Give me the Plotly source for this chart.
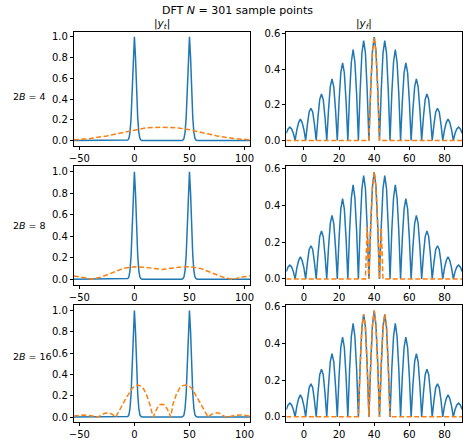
import plotly.graph_objects as go

BLUE = '#1f77b4'
ORANGE = '#ff7f0e'

half_widths = [2, 4, 8]
row_labels = ['2<i>B</i> = 4', '2<i>B</i> = 8', '2<i>B</i> = 16']

# time domain |y_t|
t_x = [-55, -7, -6, -5, -4, -3, -2, -1, 0, 1, 2, 3, 4, 5, 6, 7,
       43, 44, 45, 46, 47, 48, 49, 50, 51, 52, 53, 54, 55, 56, 57, 105]
t_y = [0, 0, 0.005, 0.02, 0.08, 0.22, 0.48, 0.8, 1, 0.8, 0.48, 0.22, 0.08, 0.02, 0.005, 0,
       0, 0.005, 0.02, 0.08, 0.22, 0.48, 0.8, 1, 0.8, 0.48, 0.22, 0.08, 0.02, 0.005, 0, 0]

# filtered time signals
filt1_x = [-55, -40, -25, -10, 0, 10, 25, 40, 50, 60, 75, 90, 105]
filt1_y = [0.008, 0.02, 0.045, 0.08, 0.105, 0.122, 0.13, 0.122, 0.105, 0.08, 0.045, 0.02, 0.008]
filt2_x = [-55, -48, -42, -38, -30, -20, -10, 0, 10, 25, 40, 50, 60, 70, 80, 88, 92, 98, 105]
filt2_y = [0.03, 0.02, 0.005, 0.0, 0.02, 0.06, 0.1, 0.115, 0.11, 0.09, 0.11, 0.115, 0.1, 0.06, 0.02, 0.0, 0.005, 0.02, 0.03]
filt3_x = [-55, -50, -46, -42, -37, -33, -30, -27, -23, -20, -17, -14, -11, -8, -5, -2, 1, 3, 5, 8, 11, 14, 17,
           19, 21, 23, 25, 27, 29, 31, 33, 35, 38, 41, 44, 47, 49, 52, 55, 58, 61, 64, 67,
           70, 73, 77, 80, 83, 87, 91, 96, 100, 105]
filt3_y = [0.01, 0.015, 0.02, 0.015, 0.005, 0.0, 0.02, 0.035, 0.04, 0.025, 0.0, 0.05, 0.11, 0.17, 0.22, 0.27, 0.295, 0.3, 0.295, 0.27, 0.21, 0.12, 0.0,
           0.05, 0.09, 0.115, 0.12, 0.115, 0.09, 0.05, 0.0, 0.12, 0.21, 0.27, 0.295, 0.3, 0.295, 0.27, 0.22, 0.17, 0.11, 0.05, 0.0,
           0.025, 0.04, 0.035, 0.02, 0.0, 0.005, 0.015, 0.02, 0.015, 0.01]
filt_x = [filt1_x, filt2_x, filt3_x]
filt_y = [filt1_y, filt2_y, filt3_y]

# frequency domain |y_f|
f_x = list(range(-10, 91))
f_y = [0.04, 0.065, 0.075, 0.065, 0.04, 0,
       0.06, 0.10, 0.12, 0.10, 0.06, 0,
       0.09, 0.16, 0.18, 0.16, 0.09, 0,
       0.13, 0.23, 0.26, 0.23, 0.13, 0,
       0.17, 0.30, 0.345, 0.30, 0.17, 0,
       0.22, 0.38, 0.435, 0.38, 0.22, 0,
       0.26, 0.44, 0.51, 0.44, 0.26, 0,
       0.28, 0.49, 0.56, 0.49, 0.28, 0,
       0.29, 0.50, 0.58, 0.50, 0.29, 0,
       0.28, 0.49, 0.56, 0.49, 0.28, 0,
       0.26, 0.44, 0.51, 0.44, 0.26, 0,
       0.22, 0.38, 0.435, 0.38, 0.22, 0,
       0.17, 0.30, 0.345, 0.30, 0.17, 0,
       0.13, 0.23, 0.26, 0.23, 0.13, 0,
       0.09, 0.16, 0.18, 0.16, 0.09, 0,
       0.06, 0.10, 0.12, 0.10, 0.06, 0,
       0.04, 0.065, 0.075, 0.065, 0.04]
center = 40

fig = go.Figure()
line_w = 1.5
dash = '5px,2.5px'
ax_style = dict(showgrid=False, zeroline=False, showline=True, mirror=True, linecolor='black',
                linewidth=1, ticks='outside', ticklen=3, tickcolor='black',
                tickfont=dict(size=10, color='black'))
ydoms = [[0.677, 0.937], [0.361, 0.630], [0.047, 0.314]]
layout_axes = {}
for r in range(3):
    B = half_widths[r]
    nl, nr = 2 * r + 1, 2 * r + 2
    xl, yl, xr, yr = f'x{nl}', f'y{nl}', f'x{nr}', f'y{nr}'
    fig.add_trace(go.Scatter(x=t_x, y=t_y, mode='lines', line=dict(color=BLUE, width=line_w), xaxis=xl, yaxis=yl))
    fig.add_trace(go.Scatter(x=filt_x[r], y=filt_y[r], mode='lines',
                             line=dict(color=ORANGE, width=line_w, dash=dash), xaxis=xl, yaxis=yl))
    fig.add_trace(go.Scatter(x=f_x, y=f_y, mode='lines', line=dict(color=BLUE, width=line_w), xaxis=xr, yaxis=yr))
    masked = [y if abs(x - center) <= B else 0 for x, y in zip(f_x, f_y)]
    fig.add_trace(go.Scatter(x=f_x, y=masked, mode='lines',
                             line=dict(color=ORANGE, width=line_w, dash=dash), xaxis=xr, yaxis=yr))
    layout_axes[f'xaxis{nl}'] = dict(ax_style, domain=[0.148, 0.527], range=[-55, 105],
                                     tickvals=[-50, 0, 50, 100], anchor=yl)
    layout_axes[f'xaxis{nr}'] = dict(ax_style, domain=[0.605, 0.983], range=[-10, 90],
                                     tickvals=[0, 20, 40, 60, 80], anchor=yr)
    layout_axes[f'yaxis{nl}'] = dict(ax_style, domain=ydoms[r], range=[-0.05, 1.05],
                                     tickvals=[0, 0.2, 0.4, 0.6, 0.8, 1.0], tickformat='.1f', anchor=xl)
    layout_axes[f'yaxis{nr}'] = dict(ax_style, domain=ydoms[r], range=[-0.03, 0.61],
                                     tickvals=[0, 0.2, 0.4, 0.6], tickformat='.1f', anchor=xr)
    fig.add_annotation(text=row_labels[r], x=0.012, y=sum(ydoms[r]) / 2, xref='paper', yref='paper',
                       xanchor='left', showarrow=False, font=dict(size=9.5, color='black'))

fig.add_annotation(text='DFT <i>N</i> = 301 sample points', x=0.5, y=1.005, xref='paper', yref='paper',
                   yanchor='top', showarrow=False, font=dict(size=11, color='black'))
fig.add_annotation(text='|<i>y<sub>t</sub></i>|', x=0.3375, y=0.935, xref='paper', yref='paper',
                   yanchor='bottom', showarrow=False, font=dict(size=10.5, color='black'))
fig.add_annotation(text='|<i>y<sub>f</sub></i>|', x=0.794, y=0.935, xref='paper', yref='paper',
                   yanchor='bottom', showarrow=False, font=dict(size=10.5, color='black'))

fig.update_layout(width=474, height=443, margin=dict(l=0, r=0, t=0, b=0), showlegend=False,
                  plot_bgcolor='white', paper_bgcolor='white', font=dict(family='DejaVu Sans'),
                  **layout_axes)
fig.write_html('out.html', config={'displayModeBar': False},
               post_script="document.body.style.margin='0';")
